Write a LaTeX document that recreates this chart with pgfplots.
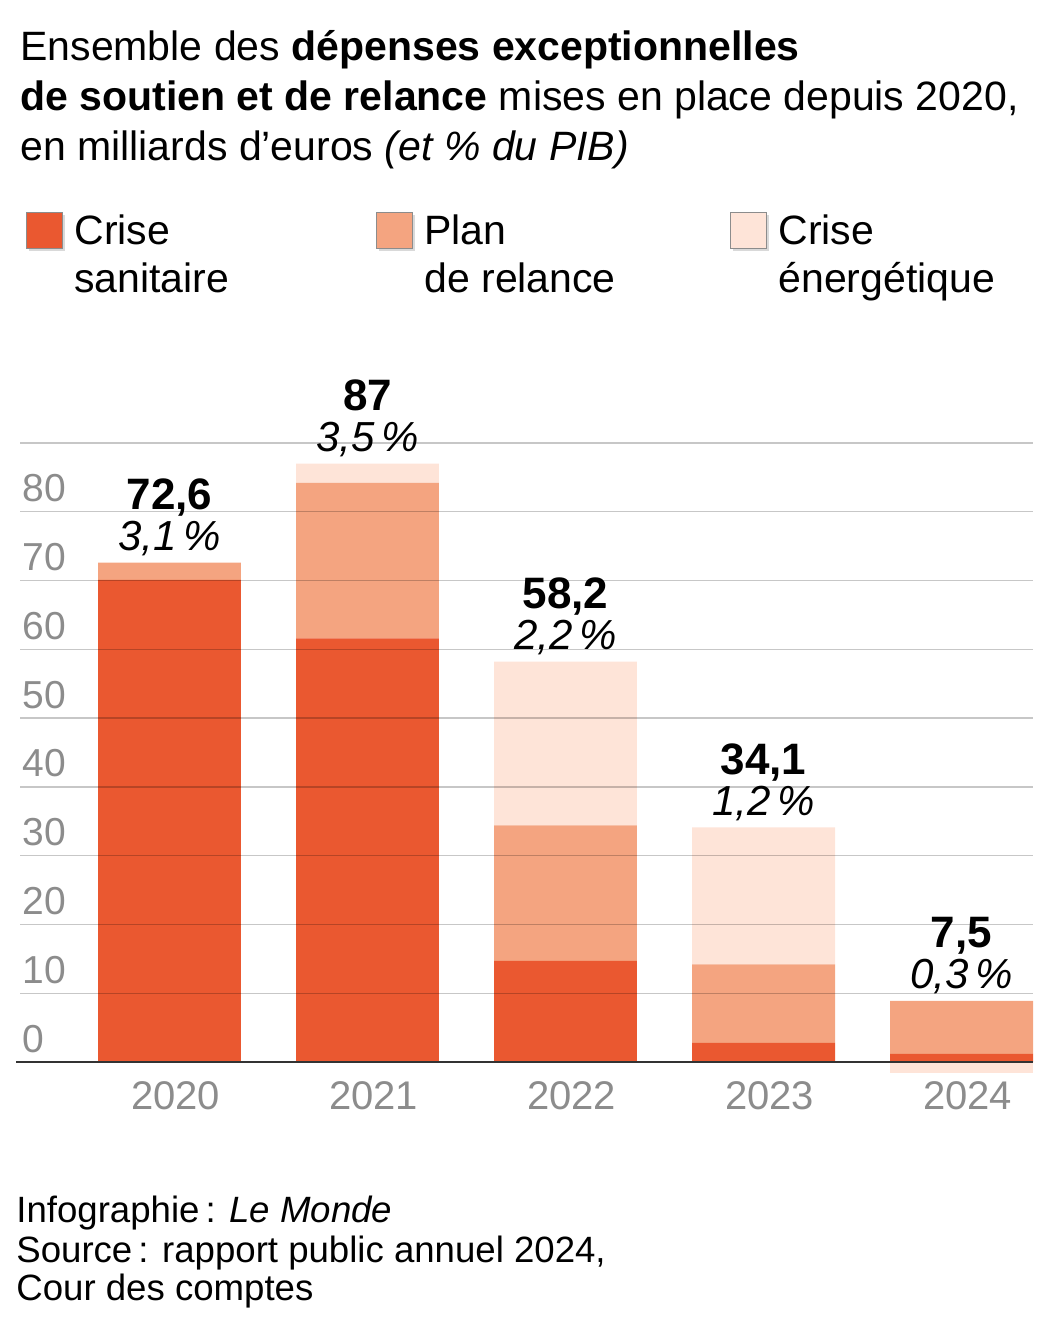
\documentclass[border=0pt]{standalone}
\usepackage{fontspec}
\setmainfont{Liberation Sans}
\usepackage{pgfplots}
\pgfplotsset{compat=1.18}
\definecolor{san}{HTML}{EA5830}
\definecolor{rel}{HTML}{F4A480}
\definecolor{ene}{HTML}{FEE4D8}
\definecolor{tickgray}{HTML}{8C8C8C}
\newcommand{\fs}[2]{\fontsize{#1}{#2}\selectfont}

\begin{document}
\begin{tikzpicture}
\path[use as bounding box] (0,0) rectangle (525.5pt,-661.5pt);
% Title
\node[anchor=base west, inner sep=0, font=\fs{20.5}{25}] at (10pt,-30pt) {Ensemble des \textbf{dépenses exceptionnelles}};
\node[anchor=base west, inner sep=0, font=\fs{20.5}{25}] at (10pt,-55pt) {\textbf{de soutien et de relance} mises en place depuis 2020,};
\node[anchor=base west, inner sep=0, font=\fs{20.5}{25}] at (10pt,-80pt) {en milliards d’euros \textit{(et \% du PIB)}};
% Legend
\foreach \xs/\xt/\c/\la/\lb in {13/37/san/Crise/sanitaire, 188/212/rel/Plan/de relance, 365/389/ene/Crise/énergétique}{
  \fill[black!15] (\xs pt+1.5pt,-107.5pt) rectangle (\xs pt+19.5pt,-125.5pt);
  \filldraw[fill=\c, draw=black!45, line width=0.5pt] (\xs pt,-106pt) rectangle (\xs pt+18pt,-124pt);
  \node[anchor=base west, inner sep=0, font=\fs{20.5}{25}] at (\xt pt,-122pt) {\la};
  \node[anchor=base west, inner sep=0, font=\fs{20.5}{25}] at (\xt pt,-146pt) {\lb};
}
% Footer
\node[anchor=base west, inner sep=0, font=\fs{18.3}{20}] at (8pt,-611pt) {Infographie\,: \textit{Le Monde}};
\node[anchor=base west, inner sep=0, font=\fs{18.3}{20}] at (8pt,-631pt) {Source\,: rapport public annuel 2024,};
\node[anchor=base west, inner sep=0, font=\fs{18.3}{20}] at (8pt,-650pt) {Cour des comptes};

\begin{axis}[
  at={(10pt,-537.88pt)}, anchor=south west,
  scale only axis, width=506.5pt, height=316.38pt,
  xmin=-0.755, xmax=4.361, ymin=-2, ymax=90,
  ybar stacked, bar width=0.722,
  axis on top, clip=false,
  axis line style={draw=none},
  major tick length=0pt,
  ytick={0,10,...,90},
  yticklabels={0,10,20,30,40,50,60,70,80,{}},
  ymajorgrids,
  major grid style={black, opacity=0.22, line width=0.7pt},
  xtick={0,1,2,3,4},
  xticklabels={2020,2021,2022,2023,2024},
  /pgf/number format/assume math mode=true,
  yticklabel style={anchor=base west, inner sep=0pt, xshift=1pt, yshift=5pt, font=\fs{19.5}{22}, text=tickgray},
  xticklabel style={anchor=base, inner sep=0pt, yshift=-17pt, xshift=3pt, font=\fs{20}{22}, text=tickgray},
]
\addplot[fill=san, draw=none] coordinates {(0,70.1) (1,61.6) (2,14.7) (3,2.8) (4,1.2)};
\addplot[fill=rel, draw=none] coordinates {(0,2.5) (1,22.6) (2,19.7) (3,11.4) (4,7.7)};
\addplot[fill=ene, draw=none] coordinates {(0,0) (1,2.8) (2,23.8) (3,19.9) (4,0)};
\foreach \i/\t/\v/\p in {0/72.6/{72,6}/{3,1}, 1/87/{87}/{3,5}, 2/58.2/{58,2}/{2,2}, 3/34.1/{34,1}/{1,2}, 4/8.9/{7,5}/{0,3}}{
  \edef\tmp{\noexpand\node[anchor=base, inner sep=0, font=\noexpand\fs{21}{24}\noexpand\itshape, yshift=6pt] at (axis cs:\i,\t) {\p\noexpand\,\noexpand\%};
  \noexpand\node[anchor=base, inner sep=0, font=\noexpand\fs{22}{24}\noexpand\bfseries, yshift=26.5pt] at (axis cs:\i,\t) {\v};}
  \tmp
}
\end{axis}
\begin{axis}[
  at={(10pt,-537.88pt)}, anchor=south west,
  scale only axis, width=506.5pt, height=316.38pt,
  xmin=-0.755, xmax=4.361, ymin=-2, ymax=90,
  ybar, bar width=0.722, bar shift=0pt,
  hide axis, clip=false,
]
\addplot[fill=ene, draw=none] coordinates {(4,-1.6)};
\draw[black!80, line width=1pt] (axis cs:-0.775,0) -- (axis cs:4.361,0);
\end{axis}
\end{tikzpicture}
\end{document}
